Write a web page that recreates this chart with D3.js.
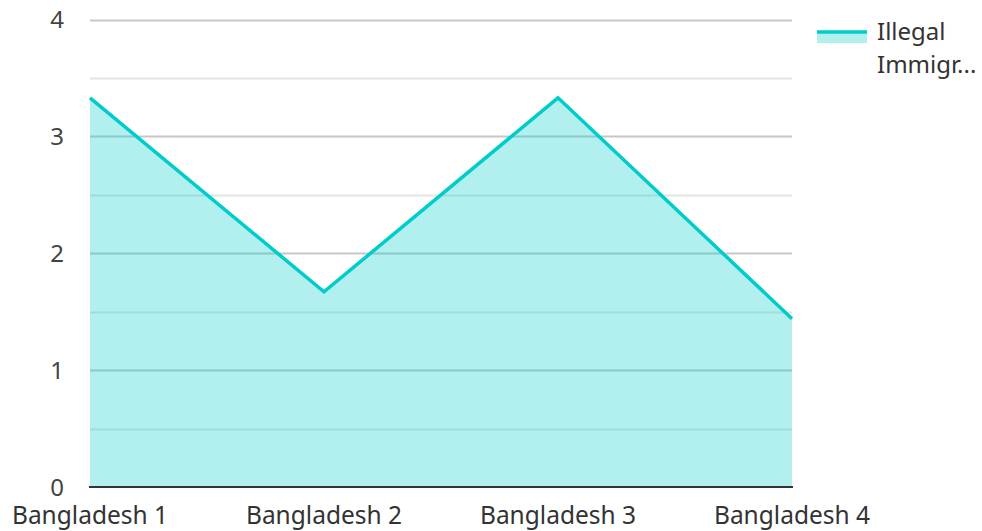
<!DOCTYPE html>
<html><head><meta charset="utf-8">
<script src="https://cdn.jsdelivr.net/npm/d3@7"></script>
<style>body{margin:0;background:#fff;} text{font-family:"Noto Sans","Open Sans",sans-serif;}</style>
</head><body>
<svg id="c" width="982" height="531"></svg>
<script>
const categories = ["Bangladesh 1","Bangladesh 2","Bangladesh 3","Bangladesh 4"];
const values = [3.33, 1.67, 3.33, 1.44];
const seriesName = "Illegal Immigr...";
const yTicks = [0,1,2,3,4];
const yMinor = [0.5,1.5,2.5,3.5];

const svg = d3.select("#c");
const x = d3.scalePoint().domain(categories).range([90,792]);
const y = d3.scaleLinear().domain([0,4]).range([487,19.5]);

// grid
svg.append("g").selectAll("line").data(yMinor).join("line")
  .attr("x1",90).attr("x2",792).attr("y1",d=>Math.round(y(d))+0.5).attr("y2",d=>Math.round(y(d))+0.5)
  .attr("stroke","#e4e4e4").attr("stroke-width",2);
svg.append("g").selectAll("line").data(yTicks.filter(d=>d>0)).join("line")
  .attr("x1",90).attr("x2",792).attr("y1",d=>Math.round(y(d))+0.5).attr("y2",d=>Math.round(y(d))+0.5)
  .attr("stroke","#c8c8c8").attr("stroke-width",2);

// area
const area = d3.area().x((d,i)=>x(categories[i])).y0(y(0)).y1(d=>y(d));
svg.append("path").datum(values).attr("d",area).attr("fill","#00cccc").attr("fill-opacity",0.3);
const line = d3.line().x((d,i)=>x(categories[i])).y(d=>y(d));
svg.append("path").datum(values).attr("d",line).attr("fill","none").attr("stroke","#00cccc").attr("stroke-width",3.5);

// x axis line
svg.append("line").attr("x1",89).attr("x2",793).attr("y1",487).attr("y2",487).attr("stroke","#333").attr("stroke-width",2);

// y labels
svg.append("g").selectAll("text").data(yTicks).join("text")
  .attr("x",64).attr("y",d=>y(d)+8.5).attr("text-anchor","end")
  .attr("font-size",24).attr("fill","#444").text(d=>d);
// x labels
svg.append("g").selectAll("text").data(categories).join("text")
  .attr("x",d=>x(d)).attr("y",524).attr("text-anchor","middle")
  .attr("font-size",24.5).attr("fill","#333").text(d=>d);

// legend
const lg = svg.append("g");
lg.append("rect").attr("x",817).attr("y",31).attr("width",50).attr("height",12).attr("fill","#00cccc").attr("fill-opacity",0.3);
lg.append("line").attr("x1",817).attr("x2",867).attr("y1",32).attr("y2",32).attr("stroke","#00cccc").attr("stroke-width",3.5);
const parts = ["Illegal", seriesName.split(" ").slice(1).join(" ")];
lg.selectAll("text").data(parts).join("text").attr("x",877).attr("y",(d,i)=>40+i*32.5)
  .attr("font-size",24).attr("fill","#333").text(d=>d);
</script>
</body></html>
